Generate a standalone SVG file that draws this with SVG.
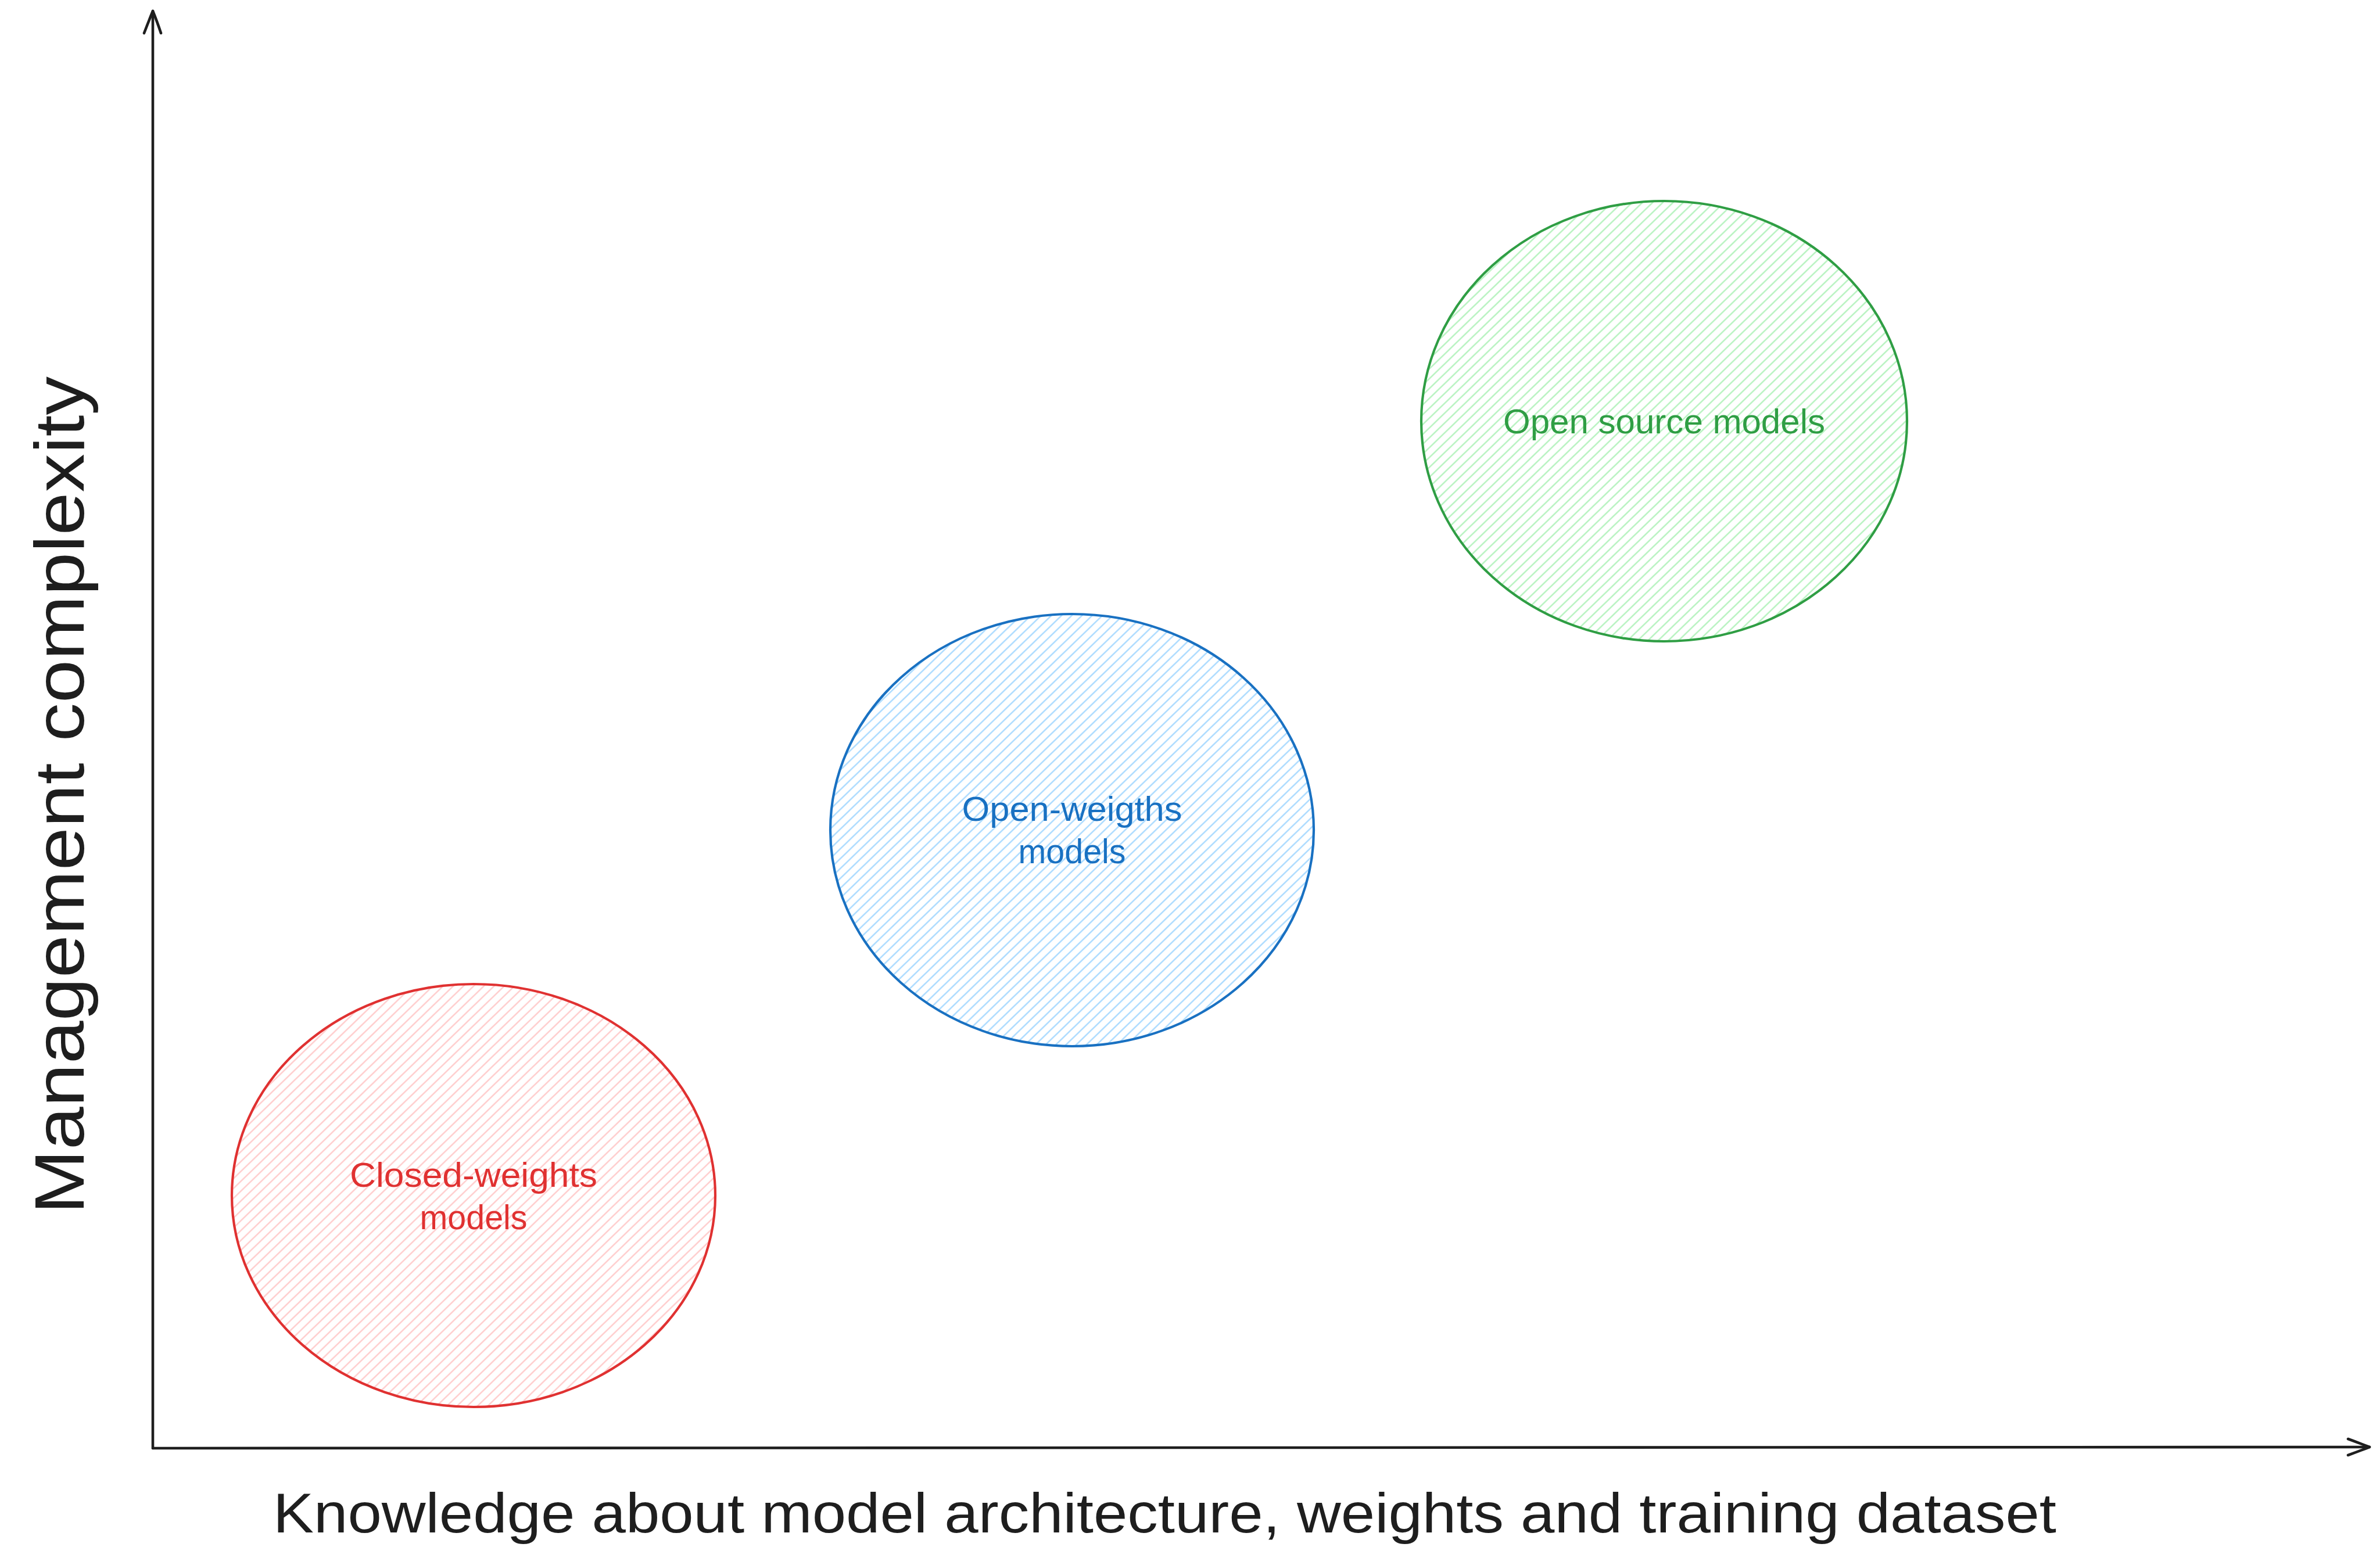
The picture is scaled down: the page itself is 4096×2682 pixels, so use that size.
<svg xmlns="http://www.w3.org/2000/svg" width="4096" height="2682" viewBox="0 0 4096 2682">
<style>
.axis{fill:none;stroke:#1e1e1e;stroke-width:4.6;stroke-linecap:round;stroke-linejoin:round}
.lbl{font-family:"Liberation Sans",Arial,sans-serif;fill:#1e1e1e}
.ct{font-family:"Liberation Sans",Arial,sans-serif;font-size:60px;text-anchor:middle}
.node{stroke-width:4.2}
</style>
<defs>
<pattern id="hRed" patternUnits="userSpaceOnUse" width="12.2" height="12.2" patternTransform="rotate(46)">
<line x1="6.1" y1="-1" x2="6.1" y2="13.2" stroke="#ffc9c9" stroke-width="2.3"/>
</pattern>
<pattern id="hBlue" patternUnits="userSpaceOnUse" width="12.2" height="12.2" patternTransform="rotate(46)">
<line x1="6.1" y1="-1" x2="6.1" y2="13.2" stroke="#a5d8ff" stroke-width="2.3"/>
</pattern>
<pattern id="hGreen" patternUnits="userSpaceOnUse" width="12.2" height="12.2" patternTransform="rotate(46)">
<line x1="6.1" y1="-1" x2="6.1" y2="13.2" stroke="#b2f2bb" stroke-width="2.3"/>
</pattern>
</defs>
<rect width="4096" height="2682" fill="#ffffff"/>
<g id="connectors">
<path class="axis" d="M263 2493 L263 19"/>
<path class="axis" d="M248 57 Q256 36 263 19 Q270 36 277 57"/>
<path class="axis" d="M263 2493 L4078 2491"/>
<path class="axis" d="M4041 2477 Q4060 2484 4078 2491 Q4060 2498 4041 2505"/>
</g>
<g id="y-label">
<text class="lbl" font-size="120" text-anchor="middle" textLength="1442" lengthAdjust="spacingAndGlyphs" transform="translate(144,1369) rotate(-90)">Management complexity</text>
</g>
<g id="x-label">
<text class="lbl" font-size="97" x="470" y="2638" textLength="3069" lengthAdjust="spacingAndGlyphs">Knowledge about model architecture, weights and training dataset</text>
</g>
<g id="closed-weights">
<ellipse class="node" cx="815" cy="2058" rx="416" ry="364" fill="url(#hRed)" stroke="#e03131"/>
<text class="ct" fill="#e03131" x="815" y="2043" textLength="426" lengthAdjust="spacingAndGlyphs">Closed-weights</text>
<text class="ct" fill="#e03131" x="815" y="2116" textLength="185" lengthAdjust="spacingAndGlyphs">models</text>
</g>
<g id="open-weights">
<ellipse class="node" cx="1845" cy="1429" rx="416" ry="372" fill="url(#hBlue)" stroke="#1971c2"/>
<text class="ct" fill="#1971c2" x="1845" y="1413" textLength="379" lengthAdjust="spacingAndGlyphs">Open-weigths</text>
<text class="ct" fill="#1971c2" x="1845" y="1486" textLength="185" lengthAdjust="spacingAndGlyphs">models</text>
</g>
<g id="open-source">
<ellipse class="node" cx="2864" cy="725" rx="418" ry="379" fill="url(#hGreen)" stroke="#2f9e44"/>
<text class="ct" fill="#2f9e44" x="2864" y="746" textLength="554" lengthAdjust="spacingAndGlyphs">Open source models</text>
</g>
</svg>
